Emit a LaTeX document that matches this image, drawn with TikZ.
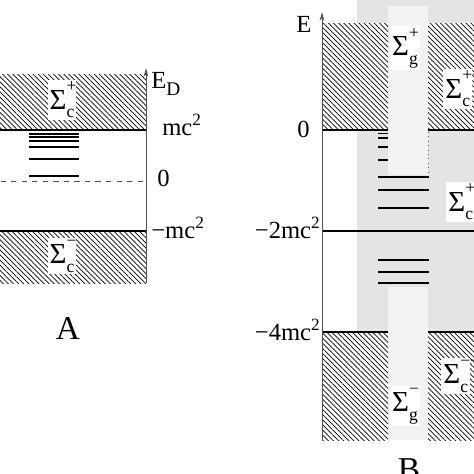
\documentclass[tikz,border=0pt]{standalone}
\usepackage{fontspec}
\setmainfont{Liberation Serif}
\usepackage{tikz}
\usetikzlibrary{arrows.meta,patterns.meta}
\definecolor{bandgrey}{HTML}{E4E4E4}
\definecolor{colgrey}{HTML}{F2F2F2}
\definecolor{axisgrey}{HTML}{505050}
\newcommand{\sigstate}[2]{Σ\rlap{\raisebox{0.6em}{\fontsize{10}{10}\selectfont#2}}\raisebox{-0.3em}{\fontsize{10}{10}\selectfont#1}}

\begin{document}
\begin{tikzpicture}[
    x=0.02cm, y=-0.02cm,
    hatched/.style={preaction={fill=white}, pattern={Lines[angle=-45,distance=2.05pt,line width=0.4pt]}},
    gapline/.style={line width=1.7pt},
    boundlvl/.style={line width=0.7pt},
    axisline/.style={axisgrey, line width=0.5pt, -{Stealth[length=5pt,width=2.6pt]}},
    sigbox/.style={fill=white, inner sep=1.2pt, font=\fontsize{16.5}{16.5}\selectfont},
    val/.style={inner sep=0pt, font=\fontsize{14}{14}\selectfont},
    panel/.style={inner sep=0pt, font=\fontsize{19}{19}\selectfont}
]
\useasboundingbox (0,0) rectangle (474,474);
% panel A
\fill[hatched] (-10,74) rectangle (146,130);
\fill[hatched] (-10,231) rectangle (146,283);
\draw[gapline] (-10,130) -- (146,130);
\draw[gapline] (-10,231) -- (146,231);
\draw[axisgrey, dashed, line width=0.4pt] (-10,181) -- (146,181);
\foreach \y in {134,137,141,147,159,176}
    \draw[boundlvl] (29,\y) -- (79,\y);
\coordinate (aBot) at (146,283);
\coordinate (aTop) at (146,68);
\draw[axisline] (aBot) -- (aTop);
\node[sigbox] (sigAp) at (62,100) {\sigstate{c}{+}};
\node[sigbox] (sigAm) at (62,256) {\sigstate{c}{−}};
\node[val, anchor=base west] (edLbl) at (151,88) {E\raisebox{-0.3em}{\fontsize{11}{11}\selectfont D}};
\node[val, anchor=base west] (mcA) at (162,135) {mc\textsuperscript{2}};
\node[val, anchor=base west] (zeroA) at (157,186) {0};
\node[val, anchor=base west] (mmcA) at (151,238) {−mc\textsuperscript{2}};
\node[panel, anchor=base] (lblA) at (68,339) {A};
% panel B
\fill[bandgrey] (357,0) rectangle (480,332);
\fill[colgrey] (388,6) rectangle (428,175);
\fill[colgrey] (388,287) rectangle (428,440);
\fill[hatched] (322,23) rectangle (388,130);
\fill[hatched] (428,23) rectangle (480,130);
\fill[hatched] (322,332) rectangle (388,440);
\fill[hatched] (428,332) rectangle (480,440);
\draw[gapline] (322,130) -- (388,130);
\draw[gapline] (428,130) -- (480,130);
\draw[gapline] (322,231) -- (480,231);
\draw[gapline] (322,332) -- (388,332);
\draw[gapline] (428,332) -- (480,332);
\draw[axisgrey, dotted, line width=0.5pt] (428,132) -- (428,175);
\foreach \y in {133.5,138,147,160}
    \draw[boundlvl] (378,\y) -- (388,\y);
\foreach \y in {177,190,208,260,272,283}
    \draw[boundlvl] (378,\y) -- (429,\y);
\coordinate (bBot) at (322,440);
\coordinate (bTop) at (322,12);
\draw[axisline] (bBot) -- (bTop);
\node[sigbox] (sigGp) at (405,48) {\sigstate{g}{+}};
\node[sigbox] (sigGm) at (405,406) {\sigstate{g}{−}};
\node[sigbox, anchor=west] (sigCpp) at (443,89) {\sigstate{c}{++}};
\node[sigbox, anchor=west] (sigCpm) at (446,202) {\sigstate{c}{+−}};
\node[sigbox, anchor=west] (sigCmm) at (441,376) {\sigstate{c}{−−}};
\node[val, anchor=base west] (eLbl) at (296,32) {E};
\node[val, anchor=base west] (zeroB) at (297,137) {0};
\node[val, anchor=base east] (mtwo) at (321,238) {−2mc\textsuperscript{2}};
\node[val, anchor=base east] (mfour) at (321,340) {−4mc\textsuperscript{2}};
\node[panel, anchor=base] (lblB) at (409,480) {B};
\end{tikzpicture}
\end{document}
